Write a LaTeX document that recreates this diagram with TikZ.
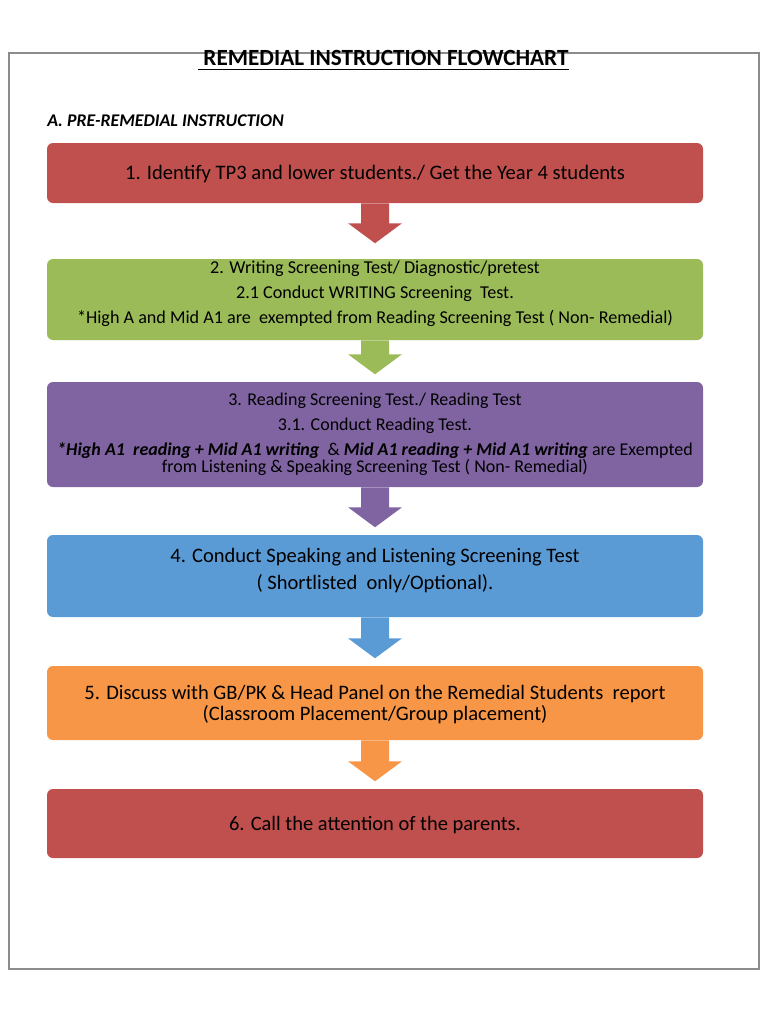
\documentclass[tikz,border=0pt]{standalone}
\usepackage{fontspec}
\setmainfont{Carlito}
\usetikzlibrary{calc}
\definecolor{cred}{HTML}{C0504D}
\definecolor{cgreen}{HTML}{9BBB59}
\definecolor{cpurple}{HTML}{8064A2}
\definecolor{cblue}{HTML}{5B9BD5}
\definecolor{corange}{HTML}{F79646}
\definecolor{frame}{HTML}{8C8C8C}
\begin{document}
\begin{tikzpicture}[x=0.75pt,y=-0.75pt,
  box/.style={rounded corners=4.5pt, minimum width=492pt, inner sep=0pt, draw=none},
  txt/.style={align=center, inner sep=0pt, text=black}]
\useasboundingbox (0,0) rectangle (768,1024);
% page frame
\draw[frame, line width=1.1pt] (9,53) rectangle (759,969);
% title
\node[inner sep=0pt, font=\fontsize{17.4}{20}\selectfont\bfseries] (title) at (386,58) {REMEDIAL INSTRUCTION FLOWCHART};
\draw[line width=0.9pt] ($(title.base west)+(-5,4)$) -- ($(title.base east)+(0,4)$);
% heading
\node[anchor=west, inner sep=0pt, font=\fontsize{13.4}{16}\selectfont\bfseries\itshape] (hA) at (47,121) {A. PRE-REMEDIAL INSTRUCTION};
% boxes
\node[box, fill=cred, minimum height=45pt] (b1) at (375,173) {};
\node[box, fill=cgreen, minimum height=60.75pt] (b2) at (375,299.5) {};
\node[box, fill=cpurple, minimum height=78.75pt] (b3) at (375,434.5) {};
\node[box, fill=cblue, minimum height=61.5pt] (b4) at (375,576) {};
\node[box, fill=corange, minimum height=55.5pt] (b5) at (375,703) {};
\node[box, fill=cred, minimum height=51.75pt] (b6) at (375,823.5) {};
% block arrows
\foreach \a/\c/\len in {b1/cred/40, b2/cgreen/34, b3/cpurple/40, b4/cblue/41, b5/corange/41}{
  \fill[\c] ($(\a.south)+(-14,0)$) -- ($(\a.south)+(14,0)$) -- ($(\a.south)+(14,\len-20)$) -- ($(\a.south)+(27,\len-20)$)
     -- ($(\a.south)+(0,\len)$) -- ($(\a.south)+(-27,\len-20)$) -- ($(\a.south)+(-14,\len-20)$) -- cycle;
}
% texts
\node[txt, font=\fontsize{15.45}{18}\selectfont] (t1) at (375,174) {1. Identify TP3 and lower students./ Get the Year 4 students};
\node[txt, font=\fontsize{13.6}{12.75}\selectfont] (t2) at (375,293.5) {2. Writing Screening Test/ Diagnostic/pretest\\[6pt]
2.1 Conduct WRITING Screening\ \ Test.\\[6pt]
*High A and Mid A1 are\ \ exempted from Reading Screening Test ( Non- Remedial)};
\node[txt, font=\fontsize{13.5}{12.75}\selectfont] (t3) at (375,434) {3. Reading Screening Test./ Reading Test\\[6pt]
3.1. Conduct Reading Test.\\[6pt]
\textbf{\textit{*High A1\ \ reading + Mid A1 writing}}\ \ \& \textbf{\textit{Mid A1 reading + Mid A1 writing}} are Exempted\\
from Listening \& Speaking Screening Test ( Non- Remedial)};
\node[txt, font=\fontsize{15.4}{20.25}\selectfont] (t4) at (375,570.5) {4. Conduct Speaking and Listening Screening Test\\
( Shortlisted\ \ only/Optional).};
\node[txt, font=\fontsize{15.4}{15.75}\selectfont] (t5) at (375,704.5) {5. Discuss with GB/PK \& Head Panel on the Remedial Students\ \ report\\
(Classroom Placement/Group placement)};
\node[txt, font=\fontsize{15.35}{17}\selectfont] (t6) at (375,825) {6. Call the attention of the parents.};
\end{tikzpicture}
\end{document}
